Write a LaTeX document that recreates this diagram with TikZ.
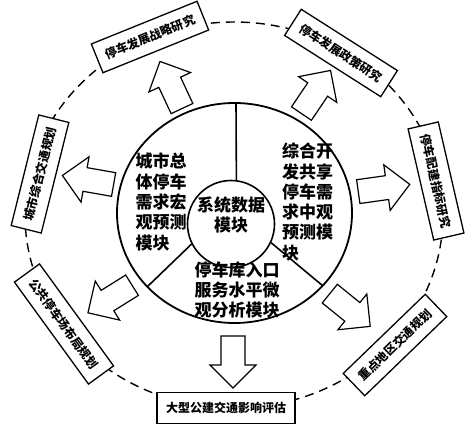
\documentclass[tikz,border=0pt]{standalone}
\usepackage{fontspec}
\setmainfont{Noto Sans CJK SC}

\begin{document}
\begin{tikzpicture}[x=1pt,y=-1pt,
  etude/.style={draw,line width=1.3pt,fill=white,minimum height=31pt,inner xsep=9pt,
    font=\fontsize{12}{14}\selectfont\bfseries},
  module/.style={align=left,inner sep=0pt,font=\fontsize{17}{20.3}\selectfont\bfseries},
  fleche/.pic={\draw[line width=1.2pt,fill=white,line join=miter]
    (-26,-12) -- (3,-12) -- (3,-23) -- (26,0) -- (3,23) -- (3,12) -- (-26,12) -- cycle;}]

\useasboundingbox (0,0) rectangle (474,433);

% Anneau
\draw[line width=1.4pt,dash pattern=on 9pt off 6pt] (234,215) ellipse [x radius=209pt,y radius=193pt];

% Etudes
\node[etude,rotate=22] (strategie) at (150,37) {停车发展战略研究};
\node[etude,rotate=-32.5] (politique) at (341,53) {停车发展政策研究};
\node[etude,rotate=-77] (indice) at (436,181) {停车配建指标研究};
\node[etude,rotate=76] (global) at (40,174) {城市综合交通规划};
\node[etude,rotate=-54] (public) at (64,324) {公共停车场布局规划};
\node[etude,rotate=44] (quartier) at (395,345) {重点地区交通规划};
\node[etude] (impact) at (226,408) {大型公建交通影响评估};

% Fleches
\pic[rotate=115] at (171,85) {fleche};
\pic[rotate=56] at (316,92) {fleche};
\pic[rotate=8] at (384,188) {fleche};
\pic[rotate=170] at (88,180) {fleche};
\pic[rotate=212] at (110,299) {fleche};
\pic[rotate=-39] at (350,310) {fleche};
\pic[rotate=-90] at (233,362) {fleche};

% Cercles
\draw[line width=1.8pt] (234.5,213) ellipse [x radius=117.5pt,y radius=110pt];
\node[circle,draw,line width=1.6pt,minimum size=87pt] (noyau) at (231,224) {};

% Secteurs
\coordinate (haut) at (236,103);
\coordinate (gauche) at (147,287);
\coordinate (droite) at (323,286);
\draw[line width=1.6pt] (noyau.83) -- (haut);
\draw[line width=1.6pt] (noyau.207) -- (gauche);
\draw[line width=1.6pt] (noyau.-25) -- (droite);

% Modules
\node[module,align=center] (donnees) at (231,215) {系统数据\\模块};
\node[module] (macro) at (161,202) {城市总\\体停车\\需求宏\\观预测\\模块};
\node[module] (meso) at (307.5,202) {综合开\\发共享\\停车需\\求中观\\预测模\\块};
\node[module,align=center] (micro) at (237,290) {停车库入口\\服务水平微\\观分析模块};

\end{tikzpicture}
\end{document}
